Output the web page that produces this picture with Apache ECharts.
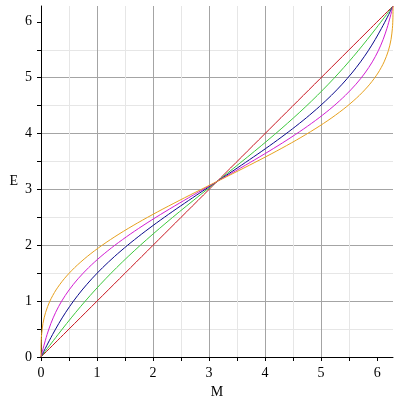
<!DOCTYPE html>
<html>
<head>
<meta charset="utf-8">
<script src="https://cdn.jsdelivr.net/npm/echarts@6/dist/echarts.min.js"></script>
<style>html,body{margin:0;padding:0;background:#fff}#c{width:400px;height:400px}</style>
</head>
<body>
<div id="c"></div>
<script>
// Eccentric anomaly E (shared sample points along each curve)
var E_vals = [0, 0.05, 0.1, 0.2, 0.3, 0.4, 0.6, 0.8, 1.0, 1.2, 1.4, 1.6, 1.8, 2.0, 2.2, 2.4, 2.6, 2.8, 3.0, 3.1416,
  3.2832, 3.4832, 3.6832, 3.8832, 4.0832, 4.2832, 4.4832, 4.6832, 4.8832, 5.0832, 5.2832, 5.4832, 5.6832, 5.8832, 5.9832, 6.0832, 6.1832, 6.2332, 6.2832];
// Mean anomaly M for each curve
var M_e000 = [0, 0.05, 0.1, 0.2, 0.3, 0.4, 0.6, 0.8, 1.0, 1.2, 1.4, 1.6, 1.8, 2.0, 2.2, 2.4, 2.6, 2.8, 3.0, 3.1416,
  3.2832, 3.4832, 3.6832, 3.8832, 4.0832, 4.2832, 4.4832, 4.6832, 4.8832, 5.0832, 5.2832, 5.4832, 5.6832, 5.8832, 5.9832, 6.0832, 6.1832, 6.2332, 6.2832];
var M_e025 = [0, 0.0375, 0.0750, 0.1503, 0.2261, 0.3026, 0.4588, 0.6207, 0.7896, 0.9670, 1.1536, 1.3501, 1.5565, 1.7727, 1.9979, 2.2311, 2.4711, 2.7163, 2.9647, 3.1416,
  3.3185, 3.5669, 3.8121, 4.0521, 4.2853, 4.5105, 4.7267, 4.9331, 5.1296, 5.3162, 5.4936, 5.6625, 5.8244, 5.9806, 6.0571, 6.1329, 6.2082, 6.2457, 6.2832];
var M_e050 = [0, 0.0250, 0.0501, 0.1007, 0.1522, 0.2053, 0.3177, 0.4413, 0.5793, 0.7340, 0.9073, 1.1002, 1.3131, 1.5454, 1.7958, 2.0623, 2.3422, 2.6325, 2.9294, 3.1416,
  3.3538, 3.6507, 3.9410, 4.2209, 4.4874, 4.7378, 4.9701, 5.1830, 5.3759, 5.5492, 5.7039, 5.8419, 5.9655, 6.0779, 6.1310, 6.1825, 6.2331, 6.2582, 6.2832];
var M_e075 = [0, 0.0125, 0.0251, 0.0510, 0.0784, 0.1079, 0.1765, 0.2620, 0.3689, 0.5010, 0.6609, 0.8503, 1.0696, 1.3180, 1.5936, 1.8934, 2.2134, 2.5488, 2.8942, 3.1416,
  3.3890, 3.7344, 4.0698, 4.3898, 4.6896, 4.9652, 5.2136, 5.4329, 5.6223, 5.7822, 5.9143, 6.0212, 6.1067, 6.1753, 6.2048, 6.2322, 6.2581, 6.2707, 6.2832];
var M_e100 = [0, 0.00002, 0.00017, 0.00133, 0.00448, 0.01058, 0.03536, 0.08264, 0.15853, 0.26796, 0.41455, 0.60043, 0.82615, 1.09070, 1.39150, 1.72454, 2.08450, 2.46501, 2.85888, 3.1416,
  3.4243, 3.8182, 4.1987, 4.5587, 4.8917, 5.1925, 5.4571, 5.6828, 5.8687, 6.0153, 6.1247, 6.2006, 6.2478, 6.2726, 6.2787, 6.2819, 6.2830, 6.2832, 6.2832];
var curveNames = ['e=0', 'e=0.25', 'e=0.5', 'e=0.75', 'e=1'];
var curveM = [M_e000, M_e025, M_e050, M_e075, M_e100];
var curveColors = ['#c8141e', '#3cc83c', '#0a0a8c', '#d21ed2', '#e6a01e'];
var tickVals = [0, 0.5, 1, 1.5, 2, 2.5, 3, 3.5, 4, 4.5, 5, 5.5, 6];
var labelVals = [0, 1, 2, 3, 4, 5, 6];
var axisMax = 6.2832;

function pairs(M) { return M.map(function (m, i) { return [m, E_vals[i]]; }); }

function mkAxis(name, isX) {
  return {
    type: 'value', min: 0, max: axisMax, interval: 0.5,
    name: name, nameLocation: 'middle', nameGap: isX ? 23 : 23, nameRotate: 0,
    nameTextStyle: { fontFamily: 'Liberation Serif', fontSize: 14, color: '#000' },
    axisLine: { show: true, onZero: false, lineStyle: { color: '#000', width: 1 } },
    axisTick: { show: true, length: 4, customValues: tickVals, lineStyle: { color: '#000' } },
    axisLabel: { customValues: labelVals, fontFamily: 'Liberation Serif', fontSize: 14, color: '#000', margin: 9,
      formatter: function (v) { return String(v); } },
    splitLine: { show: true, showMaxLine: false, lineStyle: { color: ['#a4a4a4', '#e6e6e6'], width: 1 } }
  };
}

var chart = echarts.init(document.getElementById('c'), null, { renderer: 'canvas' });
chart.setOption({
  animation: false,
  backgroundColor: '#fff',
  grid: { left: 41, right: 7, top: 6, bottom: 43, containLabel: false, outerBoundsMode: 'none' },
  xAxis: mkAxis('M', true),
  yAxis: mkAxis('E', false),
  series: curveM.map(function (M, i) {
    return {
      name: curveNames[i], type: 'line', data: pairs(M), showSymbol: false, symbol: 'none',
      smooth: 0.3, lineStyle: { color: curveColors[i], width: 1 }, z: 2 + i
    };
  })
});
</script>
</body>
</html>
